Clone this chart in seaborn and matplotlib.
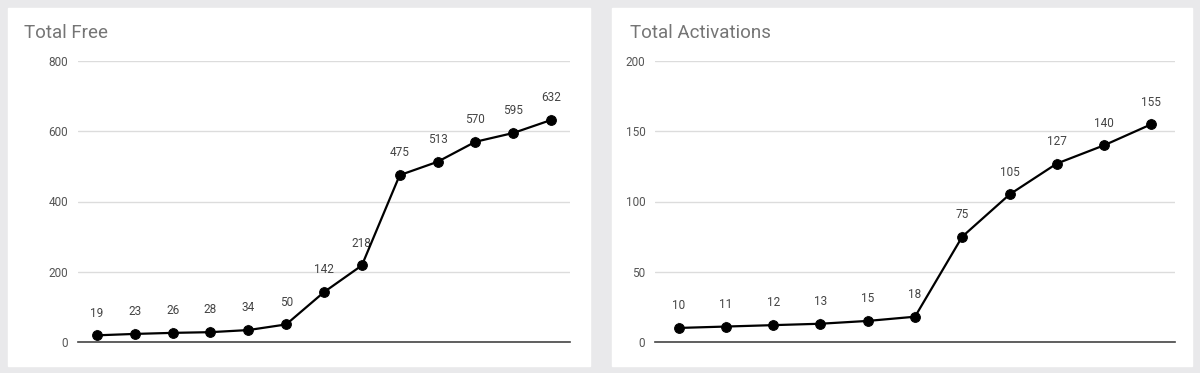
import matplotlib.pyplot as plt
import seaborn as sns
from matplotlib.patches import Rectangle

sns.set_style("white")
plt.rcParams['font.family'] = ['Roboto', 'DejaVu Sans']

# chart data
free_vals = [19, 23, 26, 28, 34, 50, 142, 218, 475, 513, 570, 595, 632]
act_vals = [10, 11, 12, 13, 15, 18, 75, 105, 127, 140, 155]
free_ticks = [0, 200, 400, 600, 800]
act_ticks = [0, 50, 100, 150, 200]

fig = plt.figure(figsize=(12, 3.73), dpi=100)
fig.patch.set_facecolor('#e9e9eb')

# white cards behind each chart
fig.add_artist(Rectangle((8/1200, 1-366/373), 582/1200, 358/373,
                         transform=fig.transFigure, color='white', zorder=0))
fig.add_artist(Rectangle((612/1200, 1-366/373), 580/1200, 358/373,
                         transform=fig.transFigure, color='white', zorder=0))


def draw(ax, vals, ticks, title, title_x):
    sns.lineplot(x=list(range(len(vals))), y=vals, ax=ax, color='black',
                 linewidth=1.6, marker='o', markersize=7,
                 markeredgecolor='black', zorder=3)
    ax.set_xlim(-0.5, len(vals) - 0.5)
    ax.set_ylim(ticks[0], ticks[-1])
    ax.set_yticks(ticks)
    ax.set_xticks([])
    ax.grid(axis='y', color='#dcdcdc', linewidth=1)
    for s in ['top', 'right', 'left']:
        ax.spines[s].set_visible(False)
    ax.spines['bottom'].set_color('#444444')
    ax.spines['bottom'].set_linewidth(1.2)
    ax.tick_params(axis='y', length=0, pad=7, labelsize=8.5, labelcolor='#555555')
    ax.set_facecolor('white')
    for i, v in enumerate(vals):
        ax.annotate(str(v), (i, v), xytext=(0, 16), textcoords='offset points',
                    ha='center', va='center', fontsize=8.5, color='#444444',
                    zorder=2,
                    arrowprops=dict(arrowstyle='-', color='#e6e6e6', lw=0.8,
                                    shrinkA=5, shrinkB=6))
    fig.text(title_x, 1 - 33/373, title, fontsize=13.5, color='#757575',
             va='center', ha='left')


ax1 = fig.add_axes([78/1200, 1-342/373, 492/1200, 281/373])
draw(ax1, free_vals, free_ticks, 'Total Free', 24/1200)

ax2 = fig.add_axes([655/1200, 1-342/373, 520/1200, 281/373])
draw(ax2, act_vals, act_ticks, 'Total Activations', 630/1200)

fig.savefig('out.png', dpi=100, facecolor=fig.get_facecolor())
